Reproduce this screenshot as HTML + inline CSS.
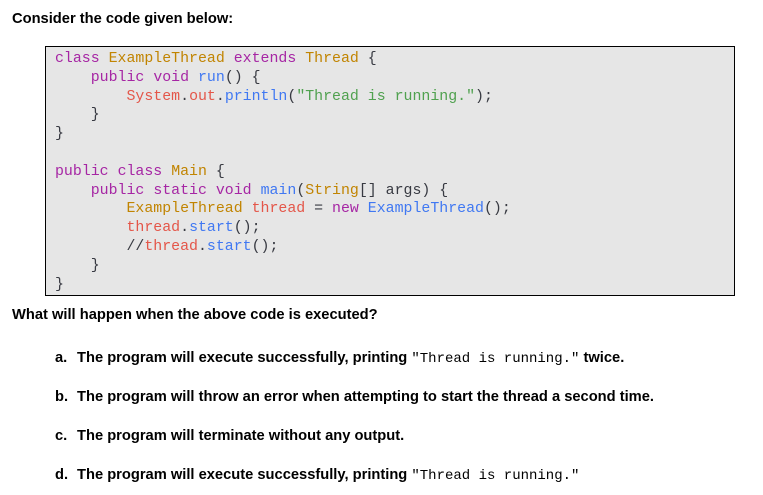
<!DOCTYPE html>
<html><head><meta charset="utf-8"><style>
body{margin:0;width:763px;height:495px;background:#fff;position:relative;overflow:hidden;font-family:"Liberation Sans",sans-serif;}
.t{position:absolute;font-weight:bold;font-size:14.7px;color:#000;white-space:nowrap;}
.box{position:absolute;left:45px;top:46px;width:688px;height:248px;background:#e6e6e6;border:1.5px solid #000;}
.code{position:absolute;left:55px;top:50px;font-family:"Liberation Mono",monospace;font-size:14.9px;line-height:18.8px;white-space:pre;color:#383a42;margin:0;}
.k{color:#a626a4}.o{color:#c18401}.b{color:#4078f2}.r{color:#e45649}.g{color:#50a14f}
.m{font-family:"Liberation Mono",monospace;font-weight:normal;font-size:14px;}
</style></head><body>
<div class="t" style="left:12px;top:11px;">Consider the code given below:</div>
<div class="box"></div>
<pre class="code"><span class="k">class</span> <span class="o">ExampleThread</span> <span class="k">extends</span> <span class="o">Thread</span> {
    <span class="k">public</span> <span class="k">void</span> <span class="b">run</span>() {
        <span class="r">System</span>.<span class="r">out</span>.<span class="b">println</span>(<span class="g">"Thread is running."</span>);
    }
}

<span class="k">public</span> <span class="k">class</span> <span class="o">Main</span> {
    <span class="k">public</span> <span class="k">static</span> <span class="k">void</span> <span class="b">main</span>(<span class="o">String</span>[] args) {
        <span class="o">ExampleThread</span> <span class="r">thread</span> = <span class="k">new</span> <span class="b">ExampleThread</span>();
        <span class="r">thread</span>.<span class="b">start</span>();
        //<span class="r">thread</span>.<span class="b">start</span>();
    }
}</pre>
<div class="t" style="left:12px;top:307px;">What will happen when the above code is executed?</div>
<div class="t" style="left:55px;top:350px;">a.</div>
<div class="t" style="left:77px;top:350px;">The program will execute successfully, printing <span class="m">"Thread is running."</span> twice.</div>
<div class="t" style="left:55px;top:389px;">b.</div>
<div class="t" style="left:77px;top:389px;">The program will throw an error when attempting to start the thread a second time.</div>
<div class="t" style="left:55px;top:428px;">c.</div>
<div class="t" style="left:77px;top:428px;">The program will terminate without any output.</div>
<div class="t" style="left:55px;top:467px;">d.</div>
<div class="t" style="left:77px;top:467px;">The program will execute successfully, printing <span class="m">"Thread is running."</span></div>
</body></html>
